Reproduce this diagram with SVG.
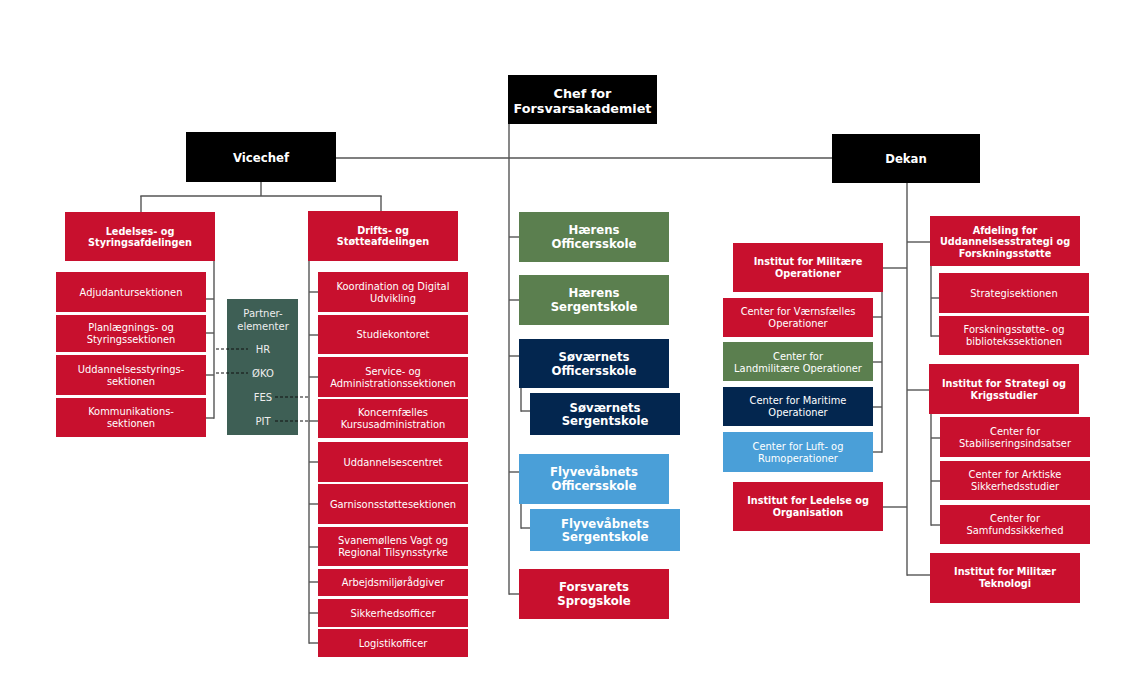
<svg xmlns="http://www.w3.org/2000/svg" width="1146" height="694" viewBox="0 0 1146 694">
<style>
.red{fill:#c8102e}.grn{fill:#5b7f4f}.nav{fill:#03264f}.blu{fill:#4a9fd8}.blk{fill:#000}.teal{fill:#3e5f55}
text{fill:#fff;text-anchor:middle;font-family:"DejaVu Sans","Noto Sans",sans-serif}
.b{font-size:9.7px;font-weight:bold}
.r{font-size:9.9px}
.m{font-size:11.7px;font-weight:bold}
.t{font-size:12.8px;font-weight:bold}
.p{font-size:10px;fill:#eee}
.c line{stroke:#555;stroke-width:1.4}
.d line{stroke:#111;stroke-width:1;stroke-dasharray:3 2}
</style>
<rect width="1146" height="694" fill="#fff"/>
<g class="c" id="connectors">
<line x1="509" y1="124" x2="509" y2="594.7"/>
<line x1="509" y1="237" x2="519" y2="237"/>
<line x1="509" y1="300" x2="519" y2="300"/>
<line x1="509" y1="356" x2="519" y2="356"/>
<line x1="509" y1="472" x2="519" y2="472"/>
<line x1="509" y1="594" x2="519" y2="594"/>
<line x1="336" y1="158" x2="832" y2="158"/>
<line x1="261" y1="182" x2="261" y2="196"/>
<line x1="140.3" y1="196" x2="381.7" y2="196"/>
<line x1="141" y1="196" x2="141" y2="212"/>
<line x1="381" y1="196" x2="381" y2="211"/>
<line x1="214" y1="261" x2="214" y2="418.7"/>
<line x1="206" y1="299" x2="214" y2="299"/>
<line x1="206" y1="333" x2="214" y2="333"/>
<line x1="206" y1="375" x2="214" y2="375"/>
<line x1="206" y1="418" x2="214" y2="418"/>
<line x1="309" y1="261" x2="309" y2="643.7"/>
<line x1="309" y1="292" x2="318" y2="292"/>
<line x1="309" y1="335" x2="318" y2="335"/>
<line x1="309" y1="377" x2="318" y2="377"/>
<line x1="309" y1="421" x2="318" y2="421"/>
<line x1="309" y1="462" x2="318" y2="462"/>
<line x1="309" y1="504" x2="318" y2="504"/>
<line x1="309" y1="547" x2="318" y2="547"/>
<line x1="309" y1="582" x2="318" y2="582"/>
<line x1="309" y1="613" x2="318" y2="613"/>
<line x1="309" y1="643" x2="318" y2="643"/>
<line x1="521" y1="388" x2="521" y2="411.7"/>
<line x1="521" y1="411" x2="530" y2="411"/>
<line x1="521" y1="504" x2="521" y2="528.7"/>
<line x1="521" y1="528" x2="530" y2="528"/>
<line x1="907" y1="183" x2="907" y2="575.7"/>
<line x1="907" y1="242" x2="930" y2="242"/>
<line x1="883" y1="268" x2="907" y2="268"/>
<line x1="907" y1="390" x2="929" y2="390"/>
<line x1="883" y1="507" x2="907" y2="507"/>
<line x1="907" y1="575" x2="930" y2="575"/>
<line x1="882" y1="292" x2="882" y2="452.7"/>
<line x1="873" y1="317" x2="882" y2="317"/>
<line x1="873" y1="362" x2="882" y2="362"/>
<line x1="873" y1="407" x2="882" y2="407"/>
<line x1="873" y1="452" x2="882" y2="452"/>
<line x1="931" y1="266" x2="931" y2="336.7"/>
<line x1="931" y1="298" x2="939" y2="298"/>
<line x1="931" y1="336" x2="939" y2="336"/>
<line x1="931" y1="414" x2="931" y2="525.7"/>
<line x1="931" y1="438" x2="940" y2="438"/>
<line x1="931" y1="481" x2="940" y2="481"/>
<line x1="931" y1="525" x2="940" y2="525"/>
</g>
<g id="chef"><rect class="blk" x="508" y="75" width="149" height="49"/><text class="t" x="582.5" y="97.5">Chef for</text><text class="t" x="582.5" y="113">Forsvarsakademiet</text></g>
<g id="vicechef"><rect class="blk" x="186" y="132" width="150" height="50"/><text class="m" x="261" y="161.5">Vicechef</text></g>
<g id="dekan"><rect class="blk" x="832" y="134" width="148" height="49"/><text class="m" x="906" y="163">Dekan</text></g>

<g id="ledelses"><rect class="red" x="65" y="212" width="150" height="49"/><text class="b" x="140" y="234.5">Ledelses- og</text><text class="b" x="140" y="246">Styringsafdelingen</text></g>
<g id="adjudant"><rect class="red" x="56" y="272" width="150" height="40"/><text class="r" x="131" y="295.5">Adjudantursektionen</text></g>
<g id="planlaeg"><rect class="red" x="56" y="315" width="150" height="37"/><text class="r" x="131" y="331">Planlægnings- og</text><text class="r" x="131" y="343">Styringssektionen</text></g>
<g id="uddstyr"><rect class="red" x="56" y="355" width="150" height="40"/><text class="r" x="131" y="372.5">Uddannelsesstyrings-</text><text class="r" x="131" y="384.5">sektionen</text></g>
<g id="kommun"><rect class="red" x="56" y="398" width="150" height="39"/><text class="r" x="131" y="415">Kommunikations-</text><text class="r" x="131" y="427">sektionen</text></g>

<g id="partner"><rect class="teal" x="227" y="299" width="71" height="136"/>
<text class="p" x="263" y="316.5">Partner-</text><text class="p" x="263" y="329.5">elementer</text>
<text class="p" x="263" y="352.5">HR</text><text class="p" x="263" y="376.5">ØKO</text><text class="p" x="263" y="400.5">FES</text><text class="p" x="263" y="424.5">PIT</text></g>
<g class="d" id="partner-links">
<line x1="216" y1="349" x2="248" y2="349"/>
<line x1="216" y1="373" x2="248" y2="373"/>
<line x1="275" y1="397" x2="309" y2="397"/>
<line x1="275" y1="421" x2="309" y2="421"/>
</g>

<g id="drifts"><rect class="red" x="308" y="211" width="150" height="50"/><text class="b" x="383" y="233.5">Drifts- og</text><text class="b" x="383" y="245">Støtteafdelingen</text></g>
<g id="koord"><rect class="red" x="318" y="272" width="150" height="40"/><text class="r" x="393" y="289.5">Koordination og Digital</text><text class="r" x="393" y="301.5">Udvikling</text></g>
<g id="studie"><rect class="red" x="318" y="315" width="150" height="39"/><text class="r" x="393" y="338">Studiekontoret</text></g>
<g id="service"><rect class="red" x="318" y="357" width="150" height="40"/><text class="r" x="393" y="374.5">Service- og</text><text class="r" x="393" y="386.5">Administrationssektionen</text></g>
<g id="koncern"><rect class="red" x="318" y="399" width="150" height="39"/><text class="r" x="393" y="416">Koncernfælles</text><text class="r" x="393" y="428">Kursusadministration</text></g>
<g id="uddcentret"><rect class="red" x="318" y="442" width="150" height="40"/><text class="r" x="393" y="465.5">Uddannelsescentret</text></g>
<g id="garnison"><rect class="red" x="318" y="484" width="150" height="40"/><text class="r" x="393" y="507.5">Garnisonsstøttesektionen</text></g>
<g id="svane"><rect class="red" x="318" y="527" width="150" height="39"/><text class="r" x="393" y="544">Svanemøllens Vagt og</text><text class="r" x="393" y="556">Regional Tilsynsstyrke</text></g>
<g id="arbejd"><rect class="red" x="318" y="569" width="150" height="27"/><text class="r" x="393" y="585.5">Arbejdsmiljørådgiver</text></g>
<g id="sikker"><rect class="red" x="318" y="599" width="150" height="28"/><text class="r" x="393" y="616.5">Sikkerhedsofficer</text></g>
<g id="logistik"><rect class="red" x="318" y="629" width="150" height="28"/><text class="r" x="393" y="646.5">Logistikofficer</text></g>

<g id="haer-off"><rect class="grn" x="519" y="212" width="150" height="50"/><text class="m" x="594" y="234">Hærens</text><text class="m" x="594" y="248">Officersskole</text></g>
<g id="haer-serg"><rect class="grn" x="519" y="275" width="150" height="50"/><text class="m" x="594" y="297">Hærens</text><text class="m" x="594" y="311">Sergentskole</text></g>
<g id="sov-off"><rect class="nav" x="519" y="339" width="150" height="49"/><text class="m" x="594" y="360.5">Søværnets</text><text class="m" x="594" y="374.5">Officersskole</text></g>
<g id="sov-serg"><rect class="nav" x="530" y="393" width="150" height="42"/><text class="m" x="605" y="411.5">Søværnets</text><text class="m" x="605" y="424.5">Sergentskole</text></g>
<g id="fly-off"><rect class="blu" x="519" y="454" width="150" height="50"/><text class="m" x="594" y="476">Flyvevåbnets</text><text class="m" x="594" y="490">Officersskole</text></g>
<g id="fly-serg"><rect class="blu" x="530" y="509" width="150" height="42"/><text class="m" x="605" y="527.5">Flyvevåbnets</text><text class="m" x="605" y="540.5">Sergentskole</text></g>
<g id="sprog"><rect class="red" x="519" y="569" width="150" height="50"/><text class="m" x="594" y="591">Forsvarets</text><text class="m" x="594" y="605">Sprogskole</text></g>

<g id="afdeling"><rect class="red" x="930" y="216" width="150" height="50"/><text class="b" x="1005" y="233.5">Afdeling for</text><text class="b" x="1005" y="245">Uddannelsesstrategi og</text><text class="b" x="1005" y="256.5">Forskningsstøtte</text></g>
<g id="strategisek"><rect class="red" x="939" y="273" width="150" height="40"/><text class="r" x="1014" y="296.5">Strategisektionen</text></g>
<g id="forskning"><rect class="red" x="939" y="316" width="150" height="39"/><text class="r" x="1014" y="333">Forskningsstøtte- og</text><text class="r" x="1014" y="345">bibliotekssektionen</text></g>
<g id="imo"><rect class="red" x="733" y="243" width="150" height="49"/><text class="b" x="808" y="265">Institut for Militære</text><text class="b" x="808" y="277">Operationer</text></g>
<g id="vaernsf"><rect class="red" x="723" y="298" width="150" height="39"/><text class="r" x="798" y="315">Center for Værnsfælles</text><text class="r" x="798" y="327">Operationer</text></g>
<g id="landmil"><rect class="grn" x="723" y="342" width="150" height="39"/><text class="r" x="798" y="359.5">Center for</text><text class="r" x="798" y="371.5">Landmilitære Operationer</text></g>
<g id="maritime"><rect class="nav" x="723" y="387" width="150" height="39"/><text class="r" x="798" y="404">Center for Maritime</text><text class="r" x="798" y="416">Operationer</text></g>
<g id="luft"><rect class="blu" x="723" y="432" width="150" height="40"/><text class="r" x="798" y="449.5">Center for Luft- og</text><text class="r" x="798" y="461.5">Rumoperationer</text></g>
<g id="isk"><rect class="red" x="929" y="364" width="150" height="50"/><text class="b" x="1004" y="387">Institut for Strategi og</text><text class="b" x="1004" y="399">Krigsstudier</text></g>
<g id="stabil"><rect class="red" x="940" y="417" width="150" height="40"/><text class="r" x="1015" y="435">Center for</text><text class="r" x="1015" y="447">Stabiliseringsindsatser</text></g>
<g id="arktisk"><rect class="red" x="940" y="461" width="150" height="39"/><text class="r" x="1015" y="478">Center for Arktiske</text><text class="r" x="1015" y="490">Sikkerhedsstudier</text></g>
<g id="samfund"><rect class="red" x="940" y="505" width="150" height="39"/><text class="r" x="1015" y="522">Center for</text><text class="r" x="1015" y="534">Samfundssikkerhed</text></g>
<g id="ilo"><rect class="red" x="733" y="482" width="150" height="49"/><text class="b" x="808" y="504">Institut for Ledelse og</text><text class="b" x="808" y="516">Organisation</text></g>
<g id="imt"><rect class="red" x="930" y="553" width="150" height="50"/><text class="b" x="1005" y="575">Institut for Militær</text><text class="b" x="1005" y="587">Teknologi</text></g>
</svg>
